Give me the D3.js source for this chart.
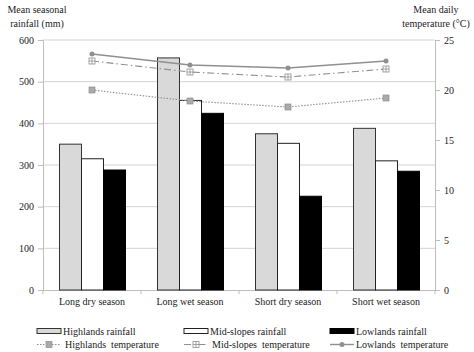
<!DOCTYPE html>
<html lang="en">
<head>
  <meta charset="UTF-8">
  <title>Rainfall and temperature</title>
  <script src="https://cdn.jsdelivr.net/npm/d3@7/dist/d3.min.js"></script>
</head>
<body style="margin:0;background:#fff">
<div id="chart"></div>
<script>
  // 数据
  const seasons = ['Long dry season', 'Long wet season', 'Short dry season', 'Short wet season'];
  const rainHighlands = [350, 557, 375, 388];
  const rainMidslopes = [315, 455, 352, 310];
  const rainLowlands = [288, 424, 225, 285];
  const tempHighlands = [20.0, 18.9, 18.3, 19.2];
  const tempMidslopes = [22.9, 21.8, 21.3, 22.1];
  const tempLowlands = [23.6, 22.5, 22.2, 22.9];
  const rainTicks = [0, 100, 200, 300, 400, 500, 600];
  const tempTicks = [0, 5, 10, 15, 20, 25];

  const W = 474, H = 352;
  const m = { left: 43, right: 435, top: 40, bottom: 290 };
  const FS = 10;
  const FONT = 'Liberation Serif';

  const svg = d3.select('#chart').append('svg')
    .attr('width', W).attr('height', H)
    .attr('font-family', FONT)
    .style('display', 'block');

  const x = d3.scaleBand().domain(seasons).range([m.left, m.right]);
  const sub = d3.scaleBand().domain([0, 1, 2]).range([0, 66]);
  const yL = d3.scaleLinear().domain([0, 600]).range([m.bottom, m.top]);
  const yR = d3.scaleLinear().domain([0, 25]).range([m.bottom, m.top]);

  // 网格线
  svg.append('g').selectAll('line')
    .data(rainTicks.filter(d => d > 0))
    .join('line')
    .attr('x1', m.left).attr('x2', m.right)
    .attr('y1', d => yL(d)).attr('y2', d => yL(d))
    .attr('stroke', '#d4d4d4').attr('stroke-width', 1);

  // 左轴
  const axL = svg.append('g')
    .attr('transform', `translate(${m.left},0)`)
    .call(d3.axisLeft(yL).tickValues(rainTicks).tickSize(5).tickPadding(4));
  // 右轴
  const axR = svg.append('g')
    .attr('transform', `translate(${m.right},0)`)
    .call(d3.axisRight(yR).tickValues(tempTicks).tickSize(5).tickPadding(4));
  // 底轴
  const axB = svg.append('g')
    .attr('transform', `translate(0,${m.bottom})`)
    .call(d3.axisBottom(x).tickSize(0).tickPadding(8));
  axB.append('g').selectAll('line')
    .data(d3.range(5))
    .join('line')
    .attr('x1', i => m.left + i * x.step()).attr('x2', i => m.left + i * x.step())
    .attr('y1', 0).attr('y2', 4)
    .attr('stroke', '#bdbdbd');

  [axL, axR, axB].forEach(a => {
    a.attr('font-family', FONT).attr('font-size', FS);
    a.select('.domain').attr('stroke', '#bdbdbd');
    a.selectAll('.tick line').attr('stroke', '#bdbdbd');
    a.selectAll('text').attr('fill', '#222');
  });

  // 柱子
  const rainSeries = [
    { vals: rainHighlands, fill: '#d9d9d9', stroke: '#333' },
    { vals: rainMidslopes, fill: '#ffffff', stroke: '#222' },
    { vals: rainLowlands, fill: '#000000', stroke: '#000' }
  ];
  const off = (x.bandwidth() - 66) / 2;
  rainSeries.forEach((s, si) => {
    svg.append('g').selectAll('rect')
      .data(seasons)
      .join('rect')
      .attr('x', (d) => x(d) + off + sub(si) + 0.5)
      .attr('width', sub.bandwidth())
      .attr('y', (d, i) => yL(s.vals[i]))
      .attr('height', (d, i) => yL(0) - yL(s.vals[i]))
      .attr('fill', s.fill)
      .attr('stroke', s.stroke)
      .attr('stroke-width', 1);
  });

  // 温度线
  const cx = d => x(d) + x.bandwidth() / 2;
  const tempSeries = [
    { vals: tempHighlands, dash: '1.5,1.5', marker: 'square' },
    { vals: tempMidslopes, dash: '7,3,1.5,3', marker: 'cross' },
    { vals: tempLowlands, dash: null, marker: 'circle' }
  ];
  const lineColor = '#909090';
  const drawMarker = (g, type, px, py) => {
    if (type === 'circle') {
      g.append('circle').attr('cx', px).attr('cy', py).attr('r', 2.5).attr('fill', lineColor);
    } else if (type === 'square') {
      g.append('rect').attr('x', px - 3).attr('y', py - 3).attr('width', 6).attr('height', 6)
        .attr('fill', '#aaa').attr('stroke', '#909090').attr('stroke-width', 0.7);
    } else {
      g.append('rect').attr('x', px - 3).attr('y', py - 3).attr('width', 6).attr('height', 6)
        .attr('fill', '#fff').attr('stroke', lineColor).attr('stroke-width', 0.8);
      g.append('path').attr('d', `M${px - 3},${py}H${px + 3}M${px},${py - 3}V${py + 3}`)
        .attr('stroke', lineColor).attr('stroke-width', 0.8);
    }
  };
  const line = d3.line().x(d => cx(d.s)).y(d => yR(d.v));
  tempSeries.forEach(s => {
    const pts = seasons.map((d, i) => ({ s: d, v: s.vals[i] }));
    const g = svg.append('g');
    g.append('path').datum(pts)
      .attr('d', line)
      .attr('fill', 'none')
      .attr('stroke', lineColor)
      .attr('stroke-width', s.marker === 'circle' ? 1.5 : 1.1)
      .attr('stroke-dasharray', s.dash);
    pts.forEach(p => drawMarker(g, s.marker, cx(p.s), yR(p.v)));
  });

  // 轴标题
  const title = (lines, tx, anchor) => {
    const t = svg.append('text').attr('text-anchor', anchor)
      .attr('font-size', FS).attr('fill', '#222');
    lines.forEach((l, i) => t.append('tspan').attr('x', tx).attr('y', 13 + i * 14).text(l));
  };
  title(['Mean seasonal', 'rainfall (mm)'], 37, 'middle');
  title(['Mean daily', 'temperature (\u00B0C)'], 436, 'middle');

  // 图例
  const legendCols = [37, 184, 330];
  const legendRain = ['Highlands rainfall', 'Mid-slopes rainfall', 'Lowlands rainfall'];
  const legendTemp = ['Highlands  temperature', 'Mid-slopes  temperature', 'Lowlands  temperature'];
  const lg = svg.append('g').attr('font-size', FS).attr('fill', '#222');
  legendCols.forEach((lx, i) => {
    const rs = rainSeries[i];
    lg.append('rect').attr('x', lx).attr('y', 328.5).attr('width', 24).attr('height', 5)
      .attr('fill', rs.fill).attr('stroke', rs.stroke).attr('stroke-width', 1);
    lg.append('text').attr('x', lx + 26).attr('y', 335).text(legendRain[i]);
    const ts = tempSeries[i];
    const g = lg.append('g');
    g.append('line').attr('x1', lx).attr('x2', lx + 24).attr('y1', 344.5).attr('y2', 344.5)
      .attr('stroke', lineColor).attr('stroke-width', ts.marker === 'circle' ? 1.4 : 1.1)
      .attr('stroke-dasharray', ts.dash);
    drawMarker(g, ts.marker, lx + 12, 344.5);
    lg.append('text').attr('x', lx + (i === 2 ? 26 : 28)).attr('y', 348)
      .attr('xml:space', 'preserve').style('white-space', 'pre')
      .text(legendTemp[i]);
  });
</script>
</body>
</html>
